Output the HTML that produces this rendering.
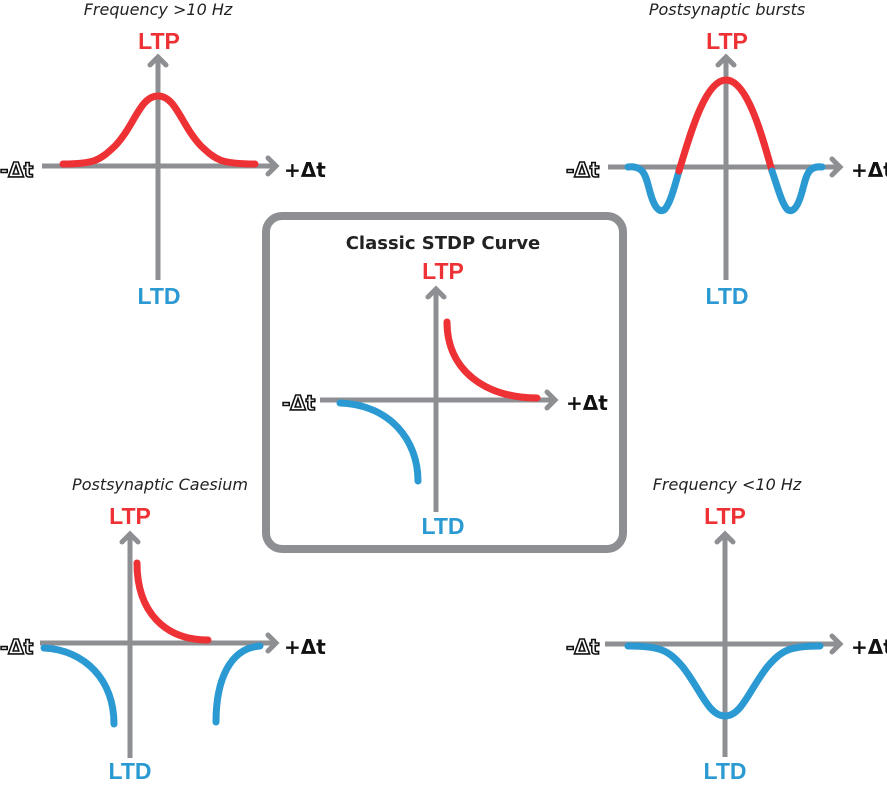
<!DOCTYPE html>
<html><head><meta charset="utf-8"><style>
html,body{margin:0;padding:0;background:#fff;}
svg{display:block;}
.ax{stroke:#8e8f92;stroke-width:5;fill:none;stroke-linecap:butt;}
.ah{stroke:#8e8f92;stroke-width:5;fill:none;stroke-linecap:round;stroke-linejoin:miter;}
.r{stroke:#ee3135;stroke-width:7;fill:none;stroke-linecap:round;}
.b{stroke:#2b9ad3;stroke-width:7;fill:none;stroke-linecap:round;}
.ltp{fill:#ee3135;font:bold 23px "Liberation Sans",sans-serif;text-anchor:middle;}
.ltd{fill:#2b9ad3;font:bold 23px "Liberation Sans",sans-serif;text-anchor:middle;}
.t{fill:#222;font:italic 16px "DejaVu Sans","Liberation Sans",sans-serif;text-anchor:middle;}
.dt{fill:#111;font:bold 20px "DejaVu Sans","Liberation Sans",sans-serif;}
.mdt{fill:#fff;stroke:#111;stroke-width:1.6;font:bold 20px "DejaVu Sans","Liberation Sans",sans-serif;}
</style></head><body>
<svg width="887" height="785" viewBox="0 0 887 785" xmlns="http://www.w3.org/2000/svg">
<!-- TL -->
<text class="t" x="158" y="15">Frequency &gt;10 Hz</text>
<text class="ltp" x="159" y="49">LTP</text>
<text class="ltd" x="159" y="304">LTD</text>
<line class="ax" x1="158" y1="58" x2="158" y2="280"/>
<polyline class="ah" points="150,65 158,57 166,65"/>
<line class="ax" x1="42" y1="166" x2="276" y2="166"/>
<polyline class="ah" points="268,158 276,166 268,174"/>
<text class="mdt" x="0" y="177">-Δt</text>
<text class="dt" x="284" y="177">+Δt</text>
<path class="r" d="M63,164 C95,164 100,160 115,146 C135,125 140,96 158,96 C176,96 181,125 201,146 C216,160 221,164 255,164"/>

<!-- TR -->
<text class="t" x="727" y="15">Postsynaptic bursts</text>
<text class="ltp" x="727" y="49">LTP</text>
<text class="ltd" x="727" y="304">LTD</text>
<line class="ax" x1="726" y1="58" x2="726" y2="280"/>
<polyline class="ah" points="718,65 726,57 734,65"/>
<line class="ax" x1="608" y1="167" x2="840" y2="167"/>
<polyline class="ah" points="832,159 840,167 832,175"/>
<text class="mdt" x="566" y="177">-Δt</text>
<text class="dt" x="851" y="177">+Δt</text>
<path class="b" d="M628,167 C645,165 646,178 650,192 C655,210 660,212 664,210 C670,205 675,185 679,171"/>
<path class="r" d="M679,171 C690,135 705,80 726,80 C747,80 762,135 772,171"/>
<path class="b" d="M772,171 C777,185 782,205 788,210 C792,212 797,210 802,192 C806,178 807,165 822,167"/>

<!-- Center box -->
<rect x="266" y="216" width="357" height="333" rx="16" ry="16" fill="none" stroke="#8e8f92" stroke-width="8"/>
<text x="443" y="249" style="fill:#222;font:bold 18px 'DejaVu Sans','Liberation Sans',sans-serif;text-anchor:middle">Classic STDP Curve</text>
<text class="ltp" x="443" y="279">LTP</text>
<text class="ltd" x="443" y="534">LTD</text>
<line class="ax" x1="436" y1="290" x2="436" y2="512"/>
<polyline class="ah" points="428,297 436,289 444,297"/>
<line class="ax" x1="320" y1="400" x2="555" y2="400"/>
<polyline class="ah" points="547,392 555,400 547,408"/>
<text class="mdt" x="282" y="410">-Δt</text>
<text class="dt" x="566" y="410">+Δt</text>
<path class="r" d="M447,322 C447,370 485,398 537,398"/>
<path class="b" d="M340,403 C390,405 418,440 418,481"/>

<!-- BL -->
<text class="t" x="160" y="490">Postsynaptic Caesium</text>
<text class="ltp" x="130" y="524">LTP</text>
<text class="ltd" x="130" y="779">LTD</text>
<line class="ax" x1="130" y1="535" x2="130" y2="758"/>
<polyline class="ah" points="122,542 130,534 138,542"/>
<line class="ax" x1="40" y1="643" x2="276" y2="643"/>
<polyline class="ah" points="268,635 276,643 268,651"/>
<text class="mdt" x="0" y="654">-Δt</text>
<text class="dt" x="284" y="654">+Δt</text>
<path class="r" d="M137,563 C137,612 165,640 208,640"/>
<path class="b" d="M44,648 C85,650 114,680 114,724"/>
<path class="b" d="M260,646 C230,648 216,680 216,722"/>

<!-- BR -->
<text class="t" x="727" y="490">Frequency &lt;10 Hz</text>
<text class="ltp" x="725" y="524">LTP</text>
<text class="ltd" x="725" y="779">LTD</text>
<line class="ax" x1="725" y1="535" x2="725" y2="757"/>
<polyline class="ah" points="717,542 725,534 733,542"/>
<line class="ax" x1="605" y1="644" x2="840" y2="644"/>
<polyline class="ah" points="832,636 840,644 832,652"/>
<text class="mdt" x="566" y="654">-Δt</text>
<text class="dt" x="851" y="654">+Δt</text>
<path class="b" d="M628,646 C660,646 668,650 682,666 C700,688 708,716 725,716 C742,716 750,688 768,666 C782,650 790,646 820,646"/>
</svg>
</body></html>
